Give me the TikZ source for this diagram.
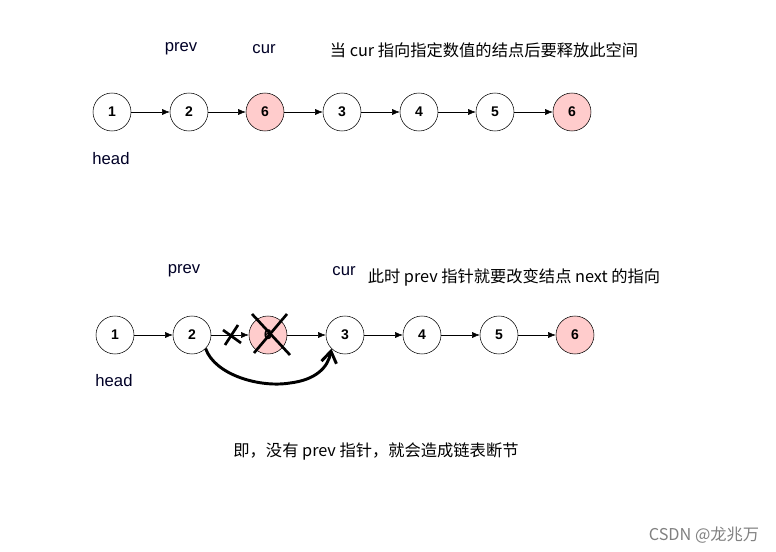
\documentclass[tikz,border=0pt]{standalone}
\usepackage{fontspec}
\setmainfont{Liberation Sans}
\newfontfamily\cjk{Noto Sans CJK SC}
\usetikzlibrary{arrows.meta,positioning}
\tikzset{>={Latex[width=1.6mm,length=2mm]}}
\tikzset{elem/.style={shape=circle, draw, fill=white, minimum size=28.5pt,
    inner sep=0pt, font=\fontsize{10.5}{12}\selectfont\bfseries}}
\tikzset{del/.style={elem, fill=red!20}}
\tikzset{tag/.style={font=\fontsize{12.5}{14}\selectfont, text=blue!15!black}}
\tikzset{note/.style={font=\cjk\fontsize{12.2}{14}\selectfont}}

\begin{document}
\begin{tikzpicture}[x=0.75pt, y=-0.75pt]
    \useasboundingbox (0,0) rectangle (776,552);
    % first list
    \node[elem] (a1) at (112,112) {1};
    \node[elem] (a2) at (189,112) {2};
    \node[del]  (a3) at (265,112) {6};
    \node[elem] (a4) at (342,112) {3};
    \node[elem] (a5) at (419,112) {4};
    \node[elem] (a6) at (495,112) {5};
    \node[del]  (a7) at (572,112) {6};
    \foreach \i/\j in {1/2,2/3,3/4,4/5,5/6,6/7}
        \draw[->] (a\i) -- (a\j);
    \node[tag] (aprev) at (181,49) {prev};
    \node[tag] (acur) at (264,49) {cur};
    \node[tag] (ahead) at (111,159) {head};
    \node[note] (atxt) at (484,50) {当 cur 指向指定数值的结点后要释放此空间};

    % second list
    \node[elem] (b1) at (115,335) {1};
    \node[elem] (b2) at (192,335) {2};
    \node[del]  (b3) at (268,335) {6};
    \node[elem] (b4) at (345,335) {3};
    \node[elem] (b5) at (422,335) {4};
    \node[elem] (b6) at (499,335) {5};
    \node[del]  (b7) at (575,335) {6};
    \foreach \i/\j in {1/2,2/3,3/4,4/5,5/6,6/7}
        \draw[->] (b\i) -- (b\j);
    \node[tag] (bprev) at (184,271) {prev};
    \node[tag] (bcur) at (344,271) {cur};
    \node[tag] (bhead) at (114,381) {head};
    \node[note] (btxt) at (514,277) {此时 prev 指针就要改变结点 next 的指向};

    % crosses and new link
    \draw[line width=2pt] (225,345) -- (238,325) (223,330) -- (241,343);
    \draw[line width=2pt] (252,314) -- (290,355) (287,314) -- (254,353);
    \coordinate (bend) at (290,383);
    \draw[line width=2.2pt, -{Straight Barb[length=3mm,width=4mm]}]
        (b2.south east) .. controls (215,375) and (260,388) .. (bend)
        .. controls (315,380) and (328,368) .. (b4.south west);

    \node[note] (ctxt) at (376,452) {即，没有 prev 指针，就会造成链表断节};
    \node[note, text=gray] (mark) at (704,535) {CSDN @龙兆万};
\end{tikzpicture}
\end{document}
